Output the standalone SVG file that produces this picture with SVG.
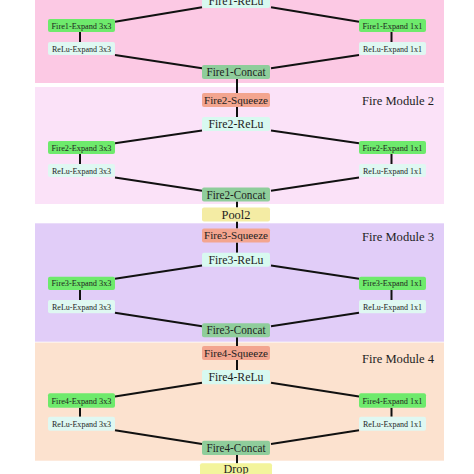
<svg xmlns="http://www.w3.org/2000/svg" width="474" height="474" viewBox="0 0 474 474">
<style>
text{font-family:"Liberation Serif","DejaVu Serif",serif;fill:#1e1e1e;text-anchor:middle}
.n rect{rx:2;ry:2}
.sq rect{fill:#f3a58f}
.rl rect{fill:#d8f9f0}
.ex rect{fill:#6eea6c}
.re rect{fill:#dff8f2}
.cc rect{fill:#8fcd9b}
.pl rect{fill:#f4eca4}
.dr rect{fill:#f3f49c}
.big{font-size:12px}
.mid{font-size:11px}
.sm{font-size:8.5px}
.lab{font-size:13.5px;text-anchor:end}
#connectors line{stroke:#111;stroke-width:2;stroke-linecap:butt}
</style>
<rect width="474" height="474" fill="#ffffff"/>
<g id="panels">
<rect x="35" y="0" width="409" height="83" fill="#fcc9e4"/>
<rect x="35" y="87" width="409" height="117" fill="#fbe2f8"/>
<rect x="35" y="223.3" width="409" height="118.4" fill="#e1cdf8"/>
<rect x="35" y="342.5" width="409" height="118.2" fill="#fce2cf"/>
</g>
<g id="labels">
<text class="lab" x="434" y="105" textLength="72" lengthAdjust="spacingAndGlyphs">Fire Module 2</text>
<text class="lab" x="434" y="240.5" textLength="72" lengthAdjust="spacingAndGlyphs">Fire Module 3</text>
<text class="lab" x="434" y="362.5" textLength="72" lengthAdjust="spacingAndGlyphs">Fire Module 4</text>
</g>
<g id="connectors">
<!-- module 1 -->
<line x1="202" y1="7.3" x2="115" y2="21.7"/>
<line x1="271" y1="7.3" x2="359" y2="21.7"/>
<line x1="115" y1="55" x2="202" y2="68.3"/>
<line x1="359" y1="55" x2="271" y2="68.3"/>
<line x1="80" y1="32" x2="80" y2="42"/>
<line x1="391.5" y1="32" x2="391.5" y2="42"/>
<line x1="237" y1="79" x2="237" y2="93"/>
<!-- module 2 -->
<line x1="237" y1="107" x2="237" y2="117"/>
<line x1="202" y1="130.5" x2="115" y2="143.3"/>
<line x1="271" y1="130.5" x2="359" y2="143.3"/>
<line x1="115" y1="177.5" x2="202" y2="190.7"/>
<line x1="359" y1="177.5" x2="271" y2="190.7"/>
<line x1="80" y1="154" x2="80" y2="164"/>
<line x1="391.5" y1="154" x2="391.5" y2="164"/>
<line x1="237" y1="201.5" x2="237" y2="207.5"/>
<line x1="237" y1="221.5" x2="237" y2="228.5"/>
<!-- module 3 -->
<line x1="237" y1="242.5" x2="237" y2="252.7"/>
<line x1="202" y1="265.5" x2="115" y2="278.8"/>
<line x1="271" y1="265.5" x2="359" y2="278.8"/>
<line x1="115" y1="312.8" x2="202" y2="326.3"/>
<line x1="359" y1="312.8" x2="271" y2="326.3"/>
<line x1="80" y1="290" x2="80" y2="300"/>
<line x1="391.5" y1="290" x2="391.5" y2="300"/>
<line x1="237" y1="337.3" x2="237" y2="346"/>
<!-- module 4 -->
<line x1="237" y1="360" x2="237" y2="370"/>
<line x1="202" y1="382.7" x2="115" y2="396.5"/>
<line x1="271" y1="382.7" x2="359" y2="396.5"/>
<line x1="115" y1="430.2" x2="202" y2="444"/>
<line x1="359" y1="430.2" x2="271" y2="444"/>
<line x1="80" y1="407.7" x2="80" y2="416.7"/>
<line x1="391.5" y1="407.7" x2="391.5" y2="416.7"/>
<line x1="237" y1="455" x2="237" y2="463.5"/>
</g>
<!-- Module 1 -->
<g id="fire1-relu" class="n rl"><rect x="202" y="-6" width="68" height="14"/><text class="big" x="236" y="5" textLength="55" lengthAdjust="spacingAndGlyphs">Fire1-ReLu</text></g>
<g id="fire1-exp3" class="n ex"><rect x="48" y="19" width="67" height="13"/><text class="sm" x="81.5" y="28.5" textLength="60" lengthAdjust="spacingAndGlyphs">Fire1-Expand 3x3</text></g>
<g id="fire1-exp1" class="n ex"><rect x="359" y="19" width="67" height="13"/><text class="sm" x="392.5" y="28.5" textLength="60" lengthAdjust="spacingAndGlyphs">Fire1-Expand 1x1</text></g>
<g id="fire1-rexp3" class="n re"><rect x="48" y="42" width="67" height="13"/><text class="sm" x="81.5" y="51.5" textLength="59" lengthAdjust="spacingAndGlyphs">ReLu-Expand 3x3</text></g>
<g id="fire1-rexp1" class="n re"><rect x="359" y="42" width="67" height="13"/><text class="sm" x="392.5" y="51.5" textLength="59" lengthAdjust="spacingAndGlyphs">ReLu-Expand 1x1</text></g>
<g id="fire1-concat" class="n cc"><rect x="202" y="65" width="68" height="14"/><text class="big" x="236" y="76" textLength="59" lengthAdjust="spacingAndGlyphs">Fire1-Concat</text></g>
<!-- Module 2 -->
<g id="fire2-squeeze" class="n sq"><rect x="202" y="93" width="68" height="14"/><text class="mid" x="236" y="103.5" textLength="64" lengthAdjust="spacingAndGlyphs">Fire2-Squeeze</text></g>
<g id="fire2-relu" class="n rl"><rect x="202" y="117" width="68" height="14"/><text class="big" x="236" y="128" textLength="55" lengthAdjust="spacingAndGlyphs">Fire2-ReLu</text></g>
<g id="fire2-exp3" class="n ex"><rect x="48" y="141" width="67" height="13"/><text class="sm" x="81.5" y="150.5" textLength="60" lengthAdjust="spacingAndGlyphs">Fire2-Expand 3x3</text></g>
<g id="fire2-exp1" class="n ex"><rect x="359" y="141" width="67" height="13"/><text class="sm" x="392.5" y="150.5" textLength="60" lengthAdjust="spacingAndGlyphs">Fire2-Expand 1x1</text></g>
<g id="fire2-rexp3" class="n re"><rect x="48" y="164" width="67" height="13"/><text class="sm" x="81.5" y="173.5" textLength="59" lengthAdjust="spacingAndGlyphs">ReLu-Expand 3x3</text></g>
<g id="fire2-rexp1" class="n re"><rect x="359" y="164" width="67" height="13"/><text class="sm" x="392.5" y="173.5" textLength="59" lengthAdjust="spacingAndGlyphs">ReLu-Expand 1x1</text></g>
<g id="fire2-concat" class="n cc"><rect x="202" y="187.5" width="68" height="14"/><text class="big" x="236" y="198.5" textLength="59" lengthAdjust="spacingAndGlyphs">Fire2-Concat</text></g>
<g id="pool2" class="n pl"><rect x="202" y="207.5" width="68" height="14"/><text class="big" x="236" y="218.5" textLength="29" lengthAdjust="spacingAndGlyphs">Pool2</text></g>
<!-- Module 3 -->
<g id="fire3-squeeze" class="n sq"><rect x="202" y="228.5" width="68" height="14"/><text class="mid" x="236" y="239" textLength="64" lengthAdjust="spacingAndGlyphs">Fire3-Squeeze</text></g>
<g id="fire3-relu" class="n rl"><rect x="202" y="252.7" width="68" height="14"/><text class="big" x="236" y="263.7" textLength="55" lengthAdjust="spacingAndGlyphs">Fire3-ReLu</text></g>
<g id="fire3-exp3" class="n ex"><rect x="48" y="276.7" width="67" height="13.3"/><text class="sm" x="81.5" y="286.3" textLength="60" lengthAdjust="spacingAndGlyphs">Fire3-Expand 3x3</text></g>
<g id="fire3-exp1" class="n ex"><rect x="359" y="276.7" width="67" height="13.3"/><text class="sm" x="392.5" y="286.3" textLength="60" lengthAdjust="spacingAndGlyphs">Fire3-Expand 1x1</text></g>
<g id="fire3-rexp3" class="n re"><rect x="48" y="300" width="67" height="13.3"/><text class="sm" x="81.5" y="309.6" textLength="59" lengthAdjust="spacingAndGlyphs">ReLu-Expand 3x3</text></g>
<g id="fire3-rexp1" class="n re"><rect x="359" y="300" width="67" height="13.3"/><text class="sm" x="392.5" y="309.6" textLength="59" lengthAdjust="spacingAndGlyphs">ReLu-Expand 1x1</text></g>
<g id="fire3-concat" class="n cc"><rect x="202" y="323.3" width="68" height="14"/><text class="big" x="236" y="334.3" textLength="59" lengthAdjust="spacingAndGlyphs">Fire3-Concat</text></g>
<!-- Module 4 -->
<g id="fire4-squeeze" class="n sq"><rect x="202" y="346" width="68" height="14"/><text class="mid" x="236" y="356.5" textLength="64" lengthAdjust="spacingAndGlyphs">Fire4-Squeeze</text></g>
<g id="fire4-relu" class="n rl"><rect x="202" y="370" width="68" height="14.3"/><text class="big" x="236" y="381.2" textLength="55" lengthAdjust="spacingAndGlyphs">Fire4-ReLu</text></g>
<g id="fire4-exp3" class="n ex"><rect x="48" y="393.3" width="67" height="14.4"/><text class="sm" x="81.5" y="403.5" textLength="60" lengthAdjust="spacingAndGlyphs">Fire4-Expand 3x3</text></g>
<g id="fire4-exp1" class="n ex"><rect x="359" y="393.3" width="67" height="14.4"/><text class="sm" x="392.5" y="403.5" textLength="60" lengthAdjust="spacingAndGlyphs">Fire4-Expand 1x1</text></g>
<g id="fire4-rexp3" class="n re"><rect x="48" y="416.7" width="67" height="14"/><text class="sm" x="81.5" y="426.7" textLength="59" lengthAdjust="spacingAndGlyphs">ReLu-Expand 3x3</text></g>
<g id="fire4-rexp1" class="n re"><rect x="359" y="416.7" width="67" height="14"/><text class="sm" x="392.5" y="426.7" textLength="59" lengthAdjust="spacingAndGlyphs">ReLu-Expand 1x1</text></g>
<g id="fire4-concat" class="n cc"><rect x="202" y="440.7" width="68" height="14.3"/><text class="big" x="236" y="451.9" textLength="59" lengthAdjust="spacingAndGlyphs">Fire4-Concat</text></g>
<g id="drop" class="n dr"><rect x="200" y="463.3" width="72" height="14"/><text class="big" x="236" y="473" textLength="25" lengthAdjust="spacingAndGlyphs">Drop</text></g>
</svg>
